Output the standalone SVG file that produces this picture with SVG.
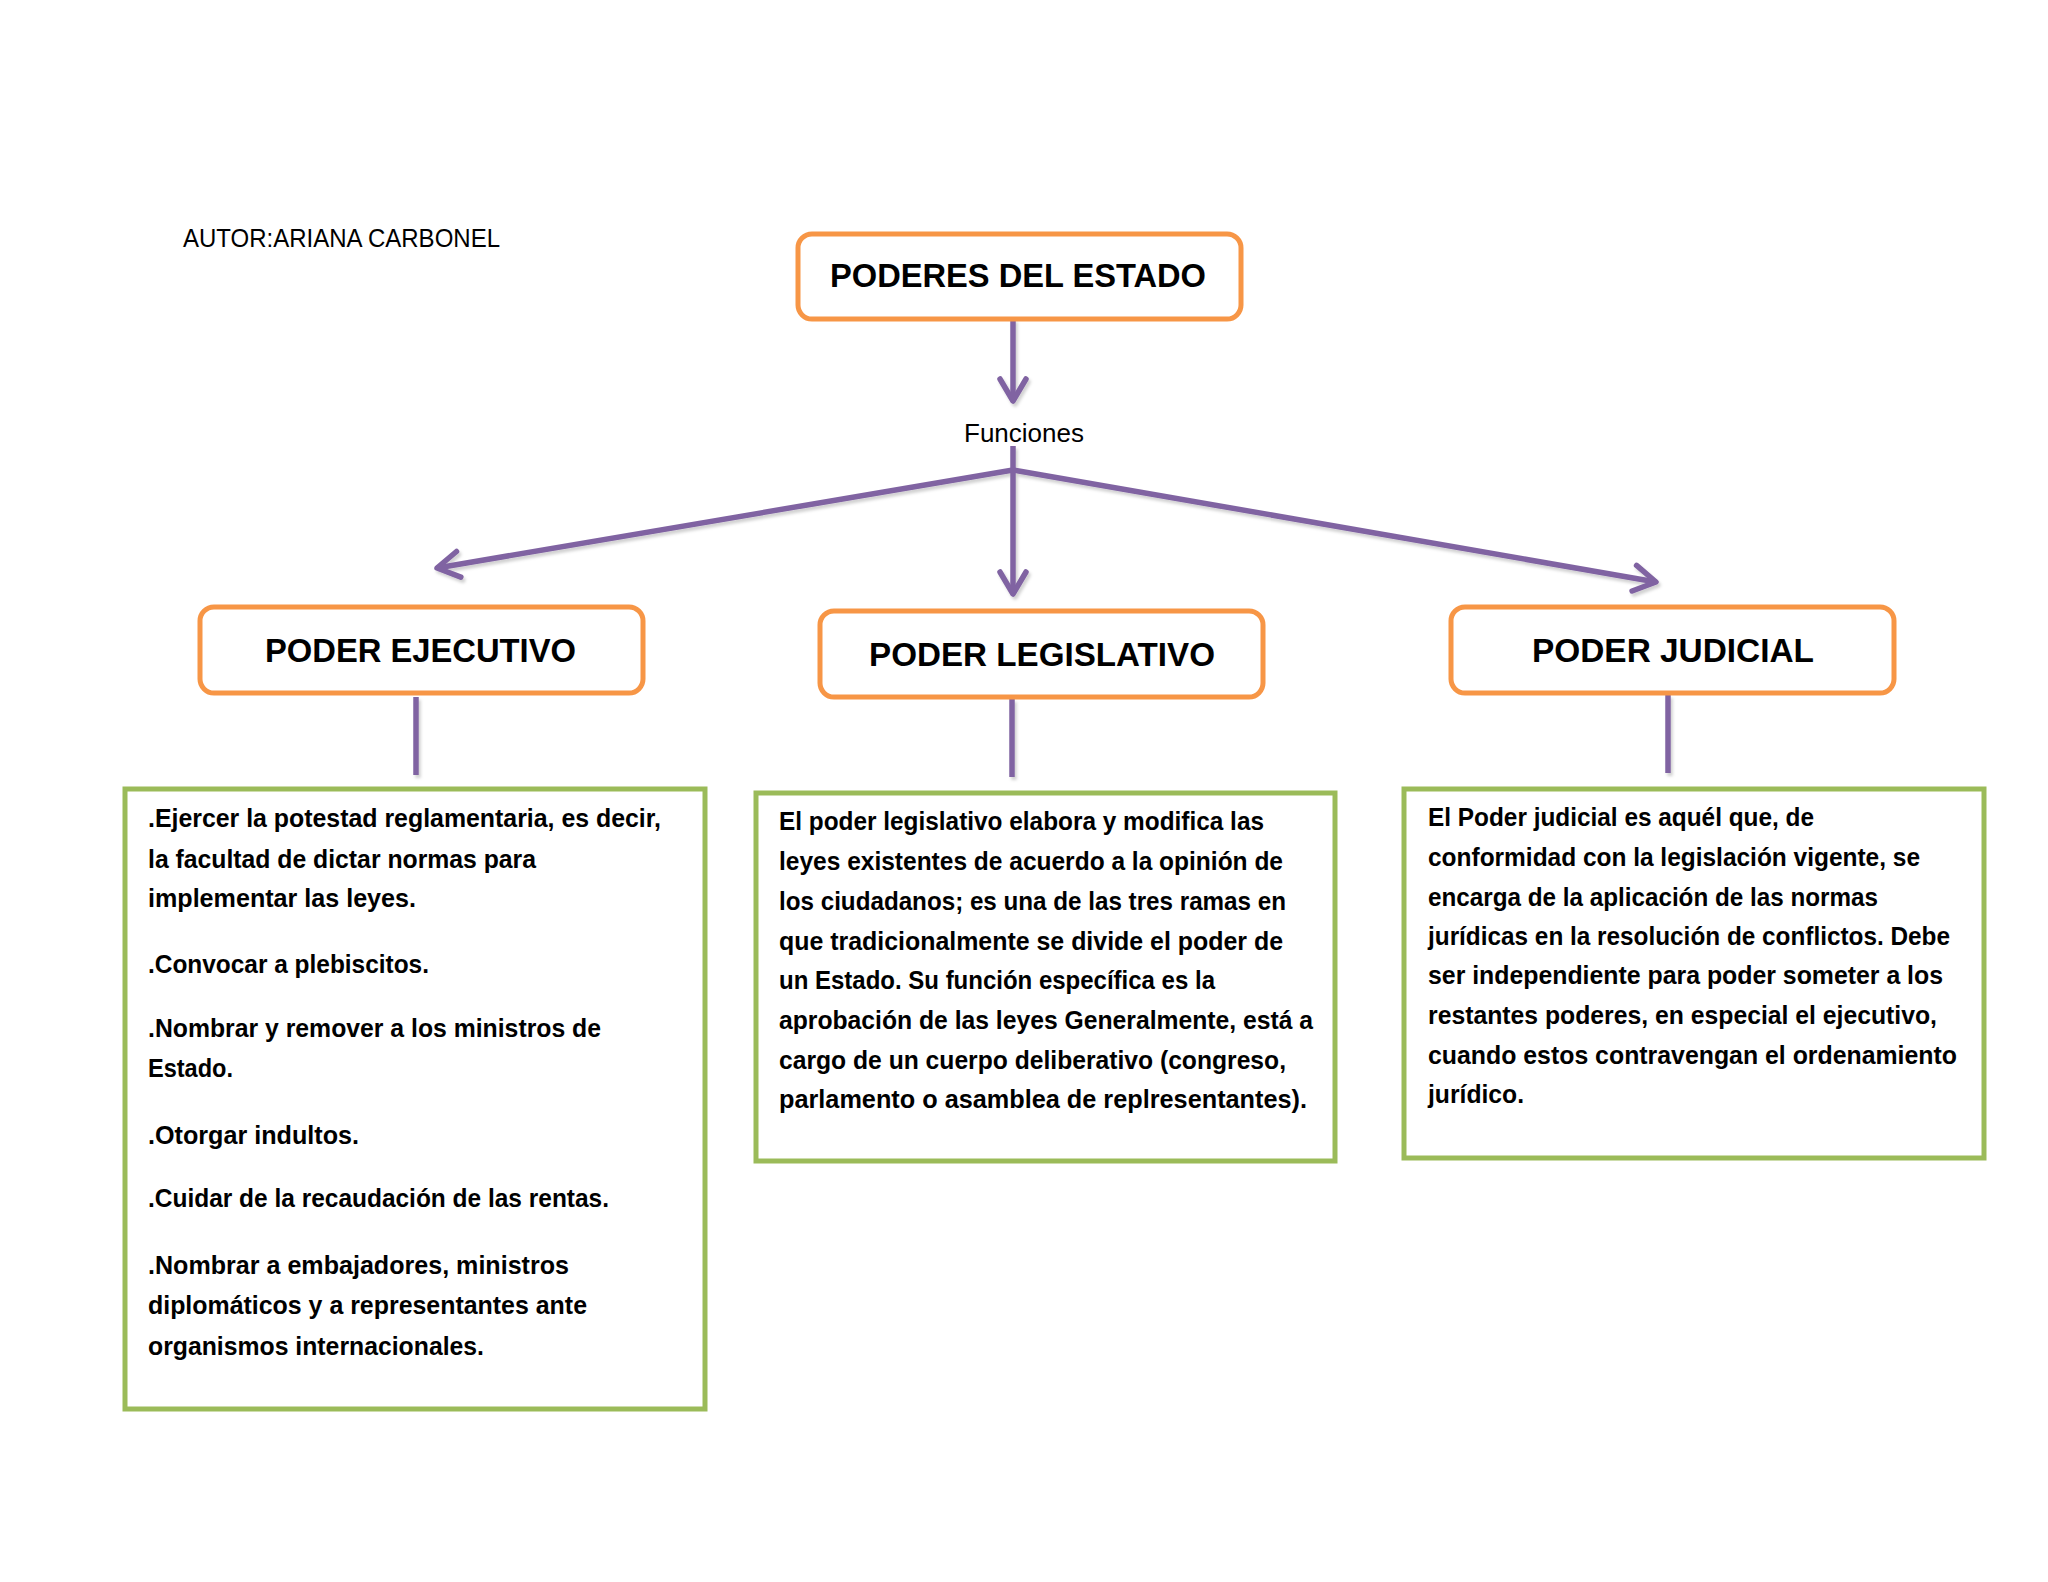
<svg xmlns="http://www.w3.org/2000/svg" width="2048" height="1582" viewBox="0 0 2048 1582">
<style>
.title{font-family:"Liberation Sans",Arial,sans-serif;font-weight:bold;font-size:34px;fill:#000}
.body{font-family:"Liberation Sans",Arial,sans-serif;font-weight:bold;font-size:25px;fill:#000}
.plain{font-family:"Liberation Sans",Arial,sans-serif;font-size:25px;fill:#000}
.obox{fill:#fff;stroke:#F79646;stroke-width:5}
.gbox{fill:#fff;stroke:#9BBB59;stroke-width:5}
.con{stroke:#8064A2;stroke-width:5.5;fill:none}
</style>
<defs>
<filter id="sh" filterUnits="userSpaceOnUse" x="0" y="0" width="2048" height="1582">
<feDropShadow dx="2" dy="3" stdDeviation="1.5" flood-color="#000" flood-opacity="0.18"/>
</filter>
<marker id="ah" markerUnits="userSpaceOnUse" viewBox="-30 -20 36 40" markerWidth="36" markerHeight="40" refX="0" refY="0" orient="auto">
<path d="M-22,-13 L0,0 L-22,13" fill="none" stroke="#8064A2" stroke-width="5.5" stroke-linecap="round" stroke-linejoin="round"/>
</marker>
</defs>
<rect width="2048" height="1582" fill="#fff"/>
<text class="plain" x="183" y="247" textLength="317" lengthAdjust="spacingAndGlyphs">AUTOR:ARIANA CARBONEL</text>

<g id="connectors" filter="url(#sh)">
<line class="con" x1="1013" y1="319" x2="1013" y2="401" marker-end="url(#ah)"/>
<line class="con" x1="1013" y1="446" x2="1013" y2="594" marker-end="url(#ah)"/>
<line class="con" x1="1013" y1="470" x2="437" y2="568" marker-end="url(#ah)"/>
<line class="con" x1="1013" y1="470" x2="1656" y2="582" marker-end="url(#ah)"/>
<line class="con" x1="416" y1="697" x2="416" y2="775"/>
<line class="con" x1="1012" y1="699" x2="1012" y2="777"/>
<line class="con" x1="1668" y1="695" x2="1668" y2="773"/>
</g>

<g id="funciones">
<text class="plain" x="964" y="442" font-size="26" textLength="120" lengthAdjust="spacingAndGlyphs">Funciones</text>
</g>

<g id="poderes">
<rect class="obox" x="798" y="234" width="443" height="85" rx="14"/>
<text class="title" x="830" y="287" textLength="376" lengthAdjust="spacingAndGlyphs">PODERES DEL ESTADO</text>
</g>

<g id="ejecutivo">
<rect class="obox" x="200" y="607" width="443" height="86" rx="14"/>
<text class="title" x="265" y="662" textLength="311" lengthAdjust="spacingAndGlyphs">PODER EJECUTIVO</text>
</g>

<g id="legislativo">
<rect class="obox" x="820" y="611" width="443" height="86" rx="14"/>
<text class="title" x="869" y="666" textLength="346" lengthAdjust="spacingAndGlyphs">PODER LEGISLATIVO</text>
</g>

<g id="judicial">
<rect class="obox" x="1451" y="607" width="443" height="86" rx="14"/>
<text class="title" x="1532" y="662" textLength="282" lengthAdjust="spacingAndGlyphs">PODER JUDICIAL</text>
</g>

<g id="ejecutivo-funciones">
<rect class="gbox" x="125" y="789" width="580" height="620"/>
<text class="body" x="148" y="827" textLength="513" lengthAdjust="spacingAndGlyphs">.Ejercer la potestad reglamentaria, es decir,</text>
<text class="body" x="148" y="868" textLength="388" lengthAdjust="spacingAndGlyphs">la facultad de dictar normas para</text>
<text class="body" x="148" y="907" textLength="268" lengthAdjust="spacingAndGlyphs">implementar las leyes.</text>
<text class="body" x="148" y="973" textLength="281" lengthAdjust="spacingAndGlyphs">.Convocar a plebiscitos.</text>
<text class="body" x="148" y="1037" textLength="453" lengthAdjust="spacingAndGlyphs">.Nombrar y remover a los ministros de</text>
<text class="body" x="148" y="1077" textLength="85" lengthAdjust="spacingAndGlyphs">Estado.</text>
<text class="body" x="148" y="1144" textLength="211" lengthAdjust="spacingAndGlyphs">.Otorgar indultos.</text>
<text class="body" x="148" y="1207" textLength="461" lengthAdjust="spacingAndGlyphs">.Cuidar de la recaudación de las rentas.</text>
<text class="body" x="148" y="1274" textLength="421" lengthAdjust="spacingAndGlyphs">.Nombrar a embajadores, ministros</text>
<text class="body" x="148" y="1314" textLength="439" lengthAdjust="spacingAndGlyphs">diplomáticos y a representantes ante</text>
<text class="body" x="148" y="1355" textLength="336" lengthAdjust="spacingAndGlyphs">organismos internacionales.</text>
</g>

<g id="legislativo-funciones">
<rect class="gbox" x="756" y="793" width="579" height="368"/>
<text class="body" x="779" y="830" textLength="485" lengthAdjust="spacingAndGlyphs">El poder legislativo elabora y modifica las</text>
<text class="body" x="779" y="870" textLength="504" lengthAdjust="spacingAndGlyphs">leyes existentes de acuerdo a la opinión de</text>
<text class="body" x="779" y="910" textLength="507" lengthAdjust="spacingAndGlyphs">los ciudadanos; es una de las tres ramas en</text>
<text class="body" x="779" y="950" textLength="504" lengthAdjust="spacingAndGlyphs">que tradicionalmente se divide el poder de</text>
<text class="body" x="779" y="989" textLength="436" lengthAdjust="spacingAndGlyphs">un Estado. Su función específica es la</text>
<text class="body" x="779" y="1029" textLength="534" lengthAdjust="spacingAndGlyphs">aprobación de las leyes Generalmente, está a</text>
<text class="body" x="779" y="1069" textLength="507" lengthAdjust="spacingAndGlyphs">cargo de un cuerpo deliberativo (congreso,</text>
<text class="body" x="779" y="1108" textLength="528" lengthAdjust="spacingAndGlyphs">parlamento o asamblea de replresentantes).</text>
</g>

<g id="judicial-funciones">
<rect class="gbox" x="1404" y="789" width="580" height="369"/>
<text class="body" x="1428" y="826" textLength="386" lengthAdjust="spacingAndGlyphs">El Poder judicial es aquél que, de</text>
<text class="body" x="1428" y="866" textLength="492" lengthAdjust="spacingAndGlyphs">conformidad con la legislación vigente, se</text>
<text class="body" x="1428" y="906" textLength="450" lengthAdjust="spacingAndGlyphs">encarga de la aplicación de las normas</text>
<text class="body" x="1428" y="945" textLength="522" lengthAdjust="spacingAndGlyphs">jurídicas en la resolución de conflictos. Debe</text>
<text class="body" x="1428" y="984" textLength="515" lengthAdjust="spacingAndGlyphs">ser independiente para poder someter a los</text>
<text class="body" x="1428" y="1024" textLength="509" lengthAdjust="spacingAndGlyphs">restantes poderes, en especial el ejecutivo,</text>
<text class="body" x="1428" y="1064" textLength="529" lengthAdjust="spacingAndGlyphs">cuando estos contravengan el ordenamiento</text>
<text class="body" x="1428" y="1103" textLength="96" lengthAdjust="spacingAndGlyphs">jurídico.</text>
</g>
</svg>
